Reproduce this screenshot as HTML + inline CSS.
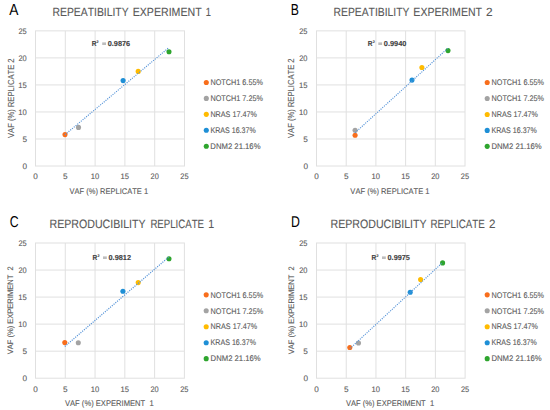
<!DOCTYPE html>
<html><head><meta charset="utf-8"><style>
html,body{margin:0;padding:0;background:#fff;}
svg{display:block;font-family:"Liberation Sans", sans-serif;font-kerning:none;text-rendering:geometricPrecision;}
</style></head><body>
<svg width="550" height="410" viewBox="0 0 550 410">
<rect width="550" height="410" fill="#fff"/>
<line x1="65.3" y1="30.85" x2="65.3" y2="166" stroke="#E0E0E0" stroke-width="1"/>
<line x1="35.5" y1="57.88" x2="184.5" y2="57.88" stroke="#E0E0E0" stroke-width="1"/>
<line x1="95.1" y1="30.85" x2="95.1" y2="166" stroke="#E0E0E0" stroke-width="1"/>
<line x1="35.5" y1="84.91" x2="184.5" y2="84.91" stroke="#E0E0E0" stroke-width="1"/>
<line x1="124.9" y1="30.85" x2="124.9" y2="166" stroke="#E0E0E0" stroke-width="1"/>
<line x1="35.5" y1="111.94" x2="184.5" y2="111.94" stroke="#E0E0E0" stroke-width="1"/>
<line x1="154.7" y1="30.85" x2="154.7" y2="166" stroke="#E0E0E0" stroke-width="1"/>
<line x1="35.5" y1="138.97" x2="184.5" y2="138.97" stroke="#E0E0E0" stroke-width="1"/>
<rect x="35.5" y="30.85" width="149" height="135.15" fill="none" stroke="#E0E0E0" stroke-width="1"/>
<text transform="matrix(1.021 0 0 1 22.581 168.75)" font-size="7.994" stroke="#595959" stroke-width="0.1" fill="#595959" xml:space="preserve">0</text>
<text transform="matrix(1.021 0 0 1 33.231 179.25)" font-size="7.994" stroke="#595959" stroke-width="0.1" fill="#595959" xml:space="preserve">0</text>
<text transform="matrix(1.029 0 0 1 22.571 141.72)" font-size="7.994" stroke="#595959" stroke-width="0.1" fill="#595959" xml:space="preserve">5</text>
<text transform="matrix(1.029 0 0 1 63.021 179.25)" font-size="7.994" stroke="#595959" stroke-width="0.1" fill="#595959" xml:space="preserve">5</text>
<text transform="matrix(0.953 0 0 1 18.219 114.69)" font-size="7.994" stroke="#595959" stroke-width="0.1" fill="#595959" xml:space="preserve">10</text>
<text transform="matrix(0.953 0 0 1 90.719 179.25)" font-size="7.994" stroke="#595959" stroke-width="0.1" fill="#595959" xml:space="preserve">10</text>
<text transform="matrix(0.956 0 0 1 18.218 87.66)" font-size="7.994" stroke="#595959" stroke-width="0.1" fill="#595959" xml:space="preserve">15</text>
<text transform="matrix(0.956 0 0 1 120.518 179.25)" font-size="7.994" stroke="#595959" stroke-width="0.1" fill="#595959" xml:space="preserve">15</text>
<text transform="matrix(0.929 0 0 1 18.426 60.63)" font-size="7.994" stroke="#595959" stroke-width="0.1" fill="#595959" xml:space="preserve">20</text>
<text transform="matrix(0.929 0 0 1 150.526 179.25)" font-size="7.994" stroke="#595959" stroke-width="0.1" fill="#595959" xml:space="preserve">20</text>
<text transform="matrix(0.932 0 0 1 18.425 33.6)" font-size="7.994" stroke="#595959" stroke-width="0.1" fill="#595959" xml:space="preserve">25</text>
<text transform="matrix(0.932 0 0 1 180.325 179.25)" font-size="7.994" stroke="#595959" stroke-width="0.1" fill="#595959" xml:space="preserve">25</text>
<text transform="matrix(0.858 0 0 1 9.373 15)" font-size="15.988" fill="#000" xml:space="preserve">A</text>
<text transform="matrix(0.871 0 0 1 52.548 15.6)" font-size="11.919" stroke="#595959" stroke-width="0.12" fill="#595959" xml:space="preserve">REPEATIBILITY</text>
<text transform="matrix(0.892 0 0 1 132.628 15.6)" font-size="11.919" stroke="#595959" stroke-width="0.12" fill="#595959" xml:space="preserve">EXPERIMENT</text>
<text transform="matrix(0.778 0 0 1 205.693 15.6)" font-size="11.919" stroke="#595959" stroke-width="0.12" fill="#595959" xml:space="preserve">1</text>
<text transform="matrix(0.91 0 0 1 69.567 193.5)" font-size="8.285" stroke="#595959" stroke-width="0.1" fill="#595959" xml:space="preserve">VAF (%) REPLICATE 1</text>
<text transform="matrix(0 -0.874 1 0 13.5 138.033)" font-size="8.721" stroke="#595959" stroke-width="0.1" fill="#595959" xml:space="preserve">VAF (%) REPLICATE 2</text>
<circle cx="65" cy="134.6" r="2.55" fill="#F86E1C"/>
<circle cx="78.5" cy="127.4" r="2.55" fill="#A3A3A3"/>
<circle cx="138.2" cy="71.4" r="2.55" fill="#FFBB00"/>
<circle cx="123.1" cy="80.6" r="2.55" fill="#1E8FD6"/>
<circle cx="169" cy="51.8" r="2.55" fill="#2EA52E"/>
<line x1="65" y1="134.7" x2="168.5" y2="47.9" stroke="#5593D8" stroke-width="1.15" stroke-dasharray="1.1 1.2"/>
<text transform="matrix(0.91 0 0 1 91.757 46.2)" font-size="7.267" font-weight="bold" stroke="#404040" stroke-width="0.1" fill="#404040" xml:space="preserve">R</text>
<text transform="matrix(0.9 0 0 1 96.578 42.9)" font-size="3.924" font-weight="bold" stroke="#404040" stroke-width="0.1" fill="#404040" xml:space="preserve">2</text>
<rect x="102.2" y="42.4" width="3.8" height="2.6" fill="#BDBDBD"/>
<text transform="matrix(1.015 0 0 1 107.708 46.2)" font-size="7.267" font-weight="bold" stroke="#404040" stroke-width="0.1" fill="#404040" xml:space="preserve">0.9876</text>
<circle cx="206.3" cy="82.45" r="2.55" fill="#F86E1C"/>
<text transform="matrix(0.895 0 0 1 210.402 85.15)" font-size="8.14" stroke="#595959" stroke-width="0.1" fill="#595959" xml:space="preserve">NOTCH1 6.55%</text>
<circle cx="206.3" cy="98.4" r="2.55" fill="#A3A3A3"/>
<text transform="matrix(0.895 0 0 1 210.402 101.1)" font-size="8.14" stroke="#595959" stroke-width="0.1" fill="#595959" xml:space="preserve">NOTCH1 7.25%</text>
<circle cx="206.3" cy="114.35" r="2.55" fill="#FFBB00"/>
<text transform="matrix(0.887 0 0 1 210.408 117.05)" font-size="8.14" stroke="#595959" stroke-width="0.1" fill="#595959" xml:space="preserve">NRAS 17.47%</text>
<circle cx="206.3" cy="130.3" r="2.55" fill="#1E8FD6"/>
<text transform="matrix(0.873 0 0 1 210.417 133)" font-size="8.14" stroke="#595959" stroke-width="0.1" fill="#595959" xml:space="preserve">KRAS 16.37%</text>
<circle cx="206.3" cy="146.25" r="2.55" fill="#2EA52E"/>
<text transform="matrix(0.949 0 0 1 210.367 148.95)" font-size="8.14" stroke="#595959" stroke-width="0.1" fill="#595959" xml:space="preserve">DNM2 21.16%</text>
<line x1="346.2" y1="30.85" x2="346.2" y2="166" stroke="#E0E0E0" stroke-width="1"/>
<line x1="316.5" y1="57.88" x2="465" y2="57.88" stroke="#E0E0E0" stroke-width="1"/>
<line x1="375.9" y1="30.85" x2="375.9" y2="166" stroke="#E0E0E0" stroke-width="1"/>
<line x1="316.5" y1="84.91" x2="465" y2="84.91" stroke="#E0E0E0" stroke-width="1"/>
<line x1="405.6" y1="30.85" x2="405.6" y2="166" stroke="#E0E0E0" stroke-width="1"/>
<line x1="316.5" y1="111.94" x2="465" y2="111.94" stroke="#E0E0E0" stroke-width="1"/>
<line x1="435.3" y1="30.85" x2="435.3" y2="166" stroke="#E0E0E0" stroke-width="1"/>
<line x1="316.5" y1="138.97" x2="465" y2="138.97" stroke="#E0E0E0" stroke-width="1"/>
<rect x="316.5" y="30.85" width="148.5" height="135.15" fill="none" stroke="#E0E0E0" stroke-width="1"/>
<text transform="matrix(1.021 0 0 1 303.381 168.75)" font-size="7.994" stroke="#595959" stroke-width="0.1" fill="#595959" xml:space="preserve">0</text>
<text transform="matrix(1.021 0 0 1 314.231 179.35)" font-size="7.994" stroke="#595959" stroke-width="0.1" fill="#595959" xml:space="preserve">0</text>
<text transform="matrix(1.029 0 0 1 303.371 141.72)" font-size="7.994" stroke="#595959" stroke-width="0.1" fill="#595959" xml:space="preserve">5</text>
<text transform="matrix(1.029 0 0 1 343.921 179.35)" font-size="7.994" stroke="#595959" stroke-width="0.1" fill="#595959" xml:space="preserve">5</text>
<text transform="matrix(0.953 0 0 1 299.019 114.69)" font-size="7.994" stroke="#595959" stroke-width="0.1" fill="#595959" xml:space="preserve">10</text>
<text transform="matrix(0.953 0 0 1 371.519 179.35)" font-size="7.994" stroke="#595959" stroke-width="0.1" fill="#595959" xml:space="preserve">10</text>
<text transform="matrix(0.956 0 0 1 299.018 87.66)" font-size="7.994" stroke="#595959" stroke-width="0.1" fill="#595959" xml:space="preserve">15</text>
<text transform="matrix(0.956 0 0 1 401.218 179.35)" font-size="7.994" stroke="#595959" stroke-width="0.1" fill="#595959" xml:space="preserve">15</text>
<text transform="matrix(0.929 0 0 1 299.226 60.63)" font-size="7.994" stroke="#595959" stroke-width="0.1" fill="#595959" xml:space="preserve">20</text>
<text transform="matrix(0.929 0 0 1 431.126 179.35)" font-size="7.994" stroke="#595959" stroke-width="0.1" fill="#595959" xml:space="preserve">20</text>
<text transform="matrix(0.932 0 0 1 299.225 33.6)" font-size="7.994" stroke="#595959" stroke-width="0.1" fill="#595959" xml:space="preserve">25</text>
<text transform="matrix(0.932 0 0 1 460.825 179.35)" font-size="7.994" stroke="#595959" stroke-width="0.1" fill="#595959" xml:space="preserve">25</text>
<text transform="matrix(0.771 0 0 1 290.698 15)" font-size="15.843" fill="#000" xml:space="preserve">B</text>
<text transform="matrix(0.868 0 0 1 333.551 15.6)" font-size="11.919" stroke="#595959" stroke-width="0.12" fill="#595959" xml:space="preserve">REPEATIBILITY</text>
<text transform="matrix(0.888 0 0 1 413.332 15.6)" font-size="11.919" stroke="#595959" stroke-width="0.12" fill="#595959" xml:space="preserve">EXPERIMENT</text>
<text transform="matrix(0.995 0 0 1 486.004 15.6)" font-size="11.919" stroke="#595959" stroke-width="0.12" fill="#595959" xml:space="preserve">2</text>
<text transform="matrix(0.917 0 0 1 350.367 193.5)" font-size="8.285" stroke="#595959" stroke-width="0.1" fill="#595959" xml:space="preserve">VAF (%) REPLICATE 1</text>
<text transform="matrix(0 -0.874 1 0 294 138.033)" font-size="8.721" stroke="#595959" stroke-width="0.1" fill="#595959" xml:space="preserve">VAF (%) REPLICATE 2</text>
<circle cx="355.1" cy="135.3" r="2.55" fill="#F86E1C"/>
<circle cx="355.1" cy="130.3" r="2.55" fill="#A3A3A3"/>
<circle cx="421.9" cy="67.5" r="2.55" fill="#FFBB00"/>
<circle cx="412" cy="80.1" r="2.55" fill="#1E8FD6"/>
<circle cx="448" cy="50.6" r="2.55" fill="#2EA52E"/>
<line x1="355.1" y1="132.7" x2="447.8" y2="48.3" stroke="#5593D8" stroke-width="1.15" stroke-dasharray="1.1 1.2"/>
<text transform="matrix(0.91 0 0 1 367.857 46.2)" font-size="7.267" font-weight="bold" stroke="#404040" stroke-width="0.1" fill="#404040" xml:space="preserve">R</text>
<text transform="matrix(0.9 0 0 1 372.678 42.9)" font-size="3.924" font-weight="bold" stroke="#404040" stroke-width="0.1" fill="#404040" xml:space="preserve">2</text>
<rect x="378.3" y="42.4" width="3.8" height="2.6" fill="#BDBDBD"/>
<text transform="matrix(1.017 0 0 1 383.808 46.2)" font-size="7.267" font-weight="bold" stroke="#404040" stroke-width="0.1" fill="#404040" xml:space="preserve">0.9940</text>
<circle cx="487.2" cy="82.55" r="2.55" fill="#F86E1C"/>
<text transform="matrix(0.895 0 0 1 491.502 85.25)" font-size="8.14" stroke="#595959" stroke-width="0.1" fill="#595959" xml:space="preserve">NOTCH1 6.55%</text>
<circle cx="487.2" cy="98.5" r="2.55" fill="#A3A3A3"/>
<text transform="matrix(0.895 0 0 1 491.502 101.2)" font-size="8.14" stroke="#595959" stroke-width="0.1" fill="#595959" xml:space="preserve">NOTCH1 7.25%</text>
<circle cx="487.2" cy="114.45" r="2.55" fill="#FFBB00"/>
<text transform="matrix(0.887 0 0 1 491.508 117.15)" font-size="8.14" stroke="#595959" stroke-width="0.1" fill="#595959" xml:space="preserve">NRAS 17.47%</text>
<circle cx="487.2" cy="130.4" r="2.55" fill="#1E8FD6"/>
<text transform="matrix(0.873 0 0 1 491.517 133.1)" font-size="8.14" stroke="#595959" stroke-width="0.1" fill="#595959" xml:space="preserve">KRAS 16.37%</text>
<circle cx="487.2" cy="146.35" r="2.55" fill="#2EA52E"/>
<text transform="matrix(0.949 0 0 1 491.467 149.05)" font-size="8.14" stroke="#595959" stroke-width="0.1" fill="#595959" xml:space="preserve">DNM2 21.16%</text>
<line x1="65.28" y1="243" x2="65.28" y2="378.2" stroke="#E0E0E0" stroke-width="1"/>
<line x1="35.5" y1="270.04" x2="184.4" y2="270.04" stroke="#E0E0E0" stroke-width="1"/>
<line x1="95.06" y1="243" x2="95.06" y2="378.2" stroke="#E0E0E0" stroke-width="1"/>
<line x1="35.5" y1="297.08" x2="184.4" y2="297.08" stroke="#E0E0E0" stroke-width="1"/>
<line x1="124.84" y1="243" x2="124.84" y2="378.2" stroke="#E0E0E0" stroke-width="1"/>
<line x1="35.5" y1="324.12" x2="184.4" y2="324.12" stroke="#E0E0E0" stroke-width="1"/>
<line x1="154.62" y1="243" x2="154.62" y2="378.2" stroke="#E0E0E0" stroke-width="1"/>
<line x1="35.5" y1="351.16" x2="184.4" y2="351.16" stroke="#E0E0E0" stroke-width="1"/>
<rect x="35.5" y="243" width="148.9" height="135.2" fill="none" stroke="#E0E0E0" stroke-width="1"/>
<text transform="matrix(1.021 0 0 1 22.581 380.95)" font-size="7.994" stroke="#595959" stroke-width="0.1" fill="#595959" xml:space="preserve">0</text>
<text transform="matrix(1.021 0 0 1 33.231 391.55)" font-size="7.994" stroke="#595959" stroke-width="0.1" fill="#595959" xml:space="preserve">0</text>
<text transform="matrix(1.029 0 0 1 22.571 353.91)" font-size="7.994" stroke="#595959" stroke-width="0.1" fill="#595959" xml:space="preserve">5</text>
<text transform="matrix(1.029 0 0 1 63.001 391.55)" font-size="7.994" stroke="#595959" stroke-width="0.1" fill="#595959" xml:space="preserve">5</text>
<text transform="matrix(0.953 0 0 1 18.219 326.87)" font-size="7.994" stroke="#595959" stroke-width="0.1" fill="#595959" xml:space="preserve">10</text>
<text transform="matrix(0.953 0 0 1 90.679 391.55)" font-size="7.994" stroke="#595959" stroke-width="0.1" fill="#595959" xml:space="preserve">10</text>
<text transform="matrix(0.956 0 0 1 18.218 299.83)" font-size="7.994" stroke="#595959" stroke-width="0.1" fill="#595959" xml:space="preserve">15</text>
<text transform="matrix(0.956 0 0 1 120.458 391.55)" font-size="7.994" stroke="#595959" stroke-width="0.1" fill="#595959" xml:space="preserve">15</text>
<text transform="matrix(0.929 0 0 1 18.426 272.79)" font-size="7.994" stroke="#595959" stroke-width="0.1" fill="#595959" xml:space="preserve">20</text>
<text transform="matrix(0.929 0 0 1 150.446 391.55)" font-size="7.994" stroke="#595959" stroke-width="0.1" fill="#595959" xml:space="preserve">20</text>
<text transform="matrix(0.932 0 0 1 18.425 245.75)" font-size="7.994" stroke="#595959" stroke-width="0.1" fill="#595959" xml:space="preserve">25</text>
<text transform="matrix(0.932 0 0 1 180.225 391.55)" font-size="7.994" stroke="#595959" stroke-width="0.1" fill="#595959" xml:space="preserve">25</text>
<text transform="matrix(0.78 0 0 1 9.629 226.8)" font-size="15.698" fill="#000" xml:space="preserve">C</text>
<text transform="matrix(0.88 0 0 1 49.529 228)" font-size="12.064" stroke="#595959" stroke-width="0.12" fill="#595959" xml:space="preserve">REPRODUCIBILITY</text>
<text transform="matrix(0.8 0 0 1 150.409 228)" font-size="12.064" stroke="#595959" stroke-width="0.12" fill="#595959" xml:space="preserve">REPLICATE</text>
<text transform="matrix(0.884 0 0 1 208.187 228)" font-size="12.064" stroke="#595959" stroke-width="0.12" fill="#595959" xml:space="preserve">1</text>
<text transform="matrix(0.919 0 0 1 64.967 405.5)" font-size="8.285" stroke="#595959" stroke-width="0.1" fill="#595959" xml:space="preserve">VAF (%) EXPERIMENT  1</text>
<text transform="matrix(0 -0.944 1 0 13.1 354.333)" font-size="7.994" stroke="#595959" stroke-width="0.1" fill="#595959" xml:space="preserve">VAF (%) EXPERIMENT  2</text>
<circle cx="64.8" cy="342.6" r="2.55" fill="#F86E1C"/>
<circle cx="78.3" cy="342.7" r="2.55" fill="#A3A3A3"/>
<circle cx="138.2" cy="282.6" r="2.55" fill="#FFBB00"/>
<circle cx="122.9" cy="291.2" r="2.55" fill="#1E8FD6"/>
<circle cx="169" cy="258.7" r="2.55" fill="#2EA52E"/>
<line x1="64.8" y1="346.5" x2="168.6" y2="257.2" stroke="#5593D8" stroke-width="1.15" stroke-dasharray="1.1 1.2"/>
<text transform="matrix(0.91 0 0 1 92.557 260.2)" font-size="7.267" font-weight="bold" stroke="#404040" stroke-width="0.1" fill="#404040" xml:space="preserve">R</text>
<text transform="matrix(0.9 0 0 1 97.378 256.9)" font-size="3.924" font-weight="bold" stroke="#404040" stroke-width="0.1" fill="#404040" xml:space="preserve">2</text>
<rect x="103" y="256.4" width="3.8" height="2.6" fill="#BDBDBD"/>
<text transform="matrix(1.016 0 0 1 108.508 260.2)" font-size="7.267" font-weight="bold" stroke="#404040" stroke-width="0.1" fill="#404040" xml:space="preserve">0.9812</text>
<circle cx="206.2" cy="294.85" r="2.55" fill="#F86E1C"/>
<text transform="matrix(0.895 0 0 1 210.602 297.55)" font-size="8.14" stroke="#595959" stroke-width="0.1" fill="#595959" xml:space="preserve">NOTCH1 6.55%</text>
<circle cx="206.2" cy="310.8" r="2.55" fill="#A3A3A3"/>
<text transform="matrix(0.895 0 0 1 210.602 313.5)" font-size="8.14" stroke="#595959" stroke-width="0.1" fill="#595959" xml:space="preserve">NOTCH1 7.25%</text>
<circle cx="206.2" cy="326.75" r="2.55" fill="#FFBB00"/>
<text transform="matrix(0.887 0 0 1 210.608 329.45)" font-size="8.14" stroke="#595959" stroke-width="0.1" fill="#595959" xml:space="preserve">NRAS 17.47%</text>
<circle cx="206.2" cy="342.7" r="2.55" fill="#1E8FD6"/>
<text transform="matrix(0.873 0 0 1 210.617 345.4)" font-size="8.14" stroke="#595959" stroke-width="0.1" fill="#595959" xml:space="preserve">KRAS 16.37%</text>
<circle cx="206.2" cy="358.65" r="2.55" fill="#2EA52E"/>
<text transform="matrix(0.949 0 0 1 210.567 361.35)" font-size="8.14" stroke="#595959" stroke-width="0.1" fill="#595959" xml:space="preserve">DNM2 21.16%</text>
<line x1="346.22" y1="243" x2="346.22" y2="378.2" stroke="#E0E0E0" stroke-width="1"/>
<line x1="316.5" y1="270.04" x2="465.1" y2="270.04" stroke="#E0E0E0" stroke-width="1"/>
<line x1="375.94" y1="243" x2="375.94" y2="378.2" stroke="#E0E0E0" stroke-width="1"/>
<line x1="316.5" y1="297.08" x2="465.1" y2="297.08" stroke="#E0E0E0" stroke-width="1"/>
<line x1="405.66" y1="243" x2="405.66" y2="378.2" stroke="#E0E0E0" stroke-width="1"/>
<line x1="316.5" y1="324.12" x2="465.1" y2="324.12" stroke="#E0E0E0" stroke-width="1"/>
<line x1="435.38" y1="243" x2="435.38" y2="378.2" stroke="#E0E0E0" stroke-width="1"/>
<line x1="316.5" y1="351.16" x2="465.1" y2="351.16" stroke="#E0E0E0" stroke-width="1"/>
<rect x="316.5" y="243" width="148.6" height="135.2" fill="none" stroke="#E0E0E0" stroke-width="1"/>
<text transform="matrix(1.021 0 0 1 303.381 380.95)" font-size="7.994" stroke="#595959" stroke-width="0.1" fill="#595959" xml:space="preserve">0</text>
<text transform="matrix(1.021 0 0 1 314.231 391.55)" font-size="7.994" stroke="#595959" stroke-width="0.1" fill="#595959" xml:space="preserve">0</text>
<text transform="matrix(1.029 0 0 1 303.371 353.91)" font-size="7.994" stroke="#595959" stroke-width="0.1" fill="#595959" xml:space="preserve">5</text>
<text transform="matrix(1.029 0 0 1 343.941 391.55)" font-size="7.994" stroke="#595959" stroke-width="0.1" fill="#595959" xml:space="preserve">5</text>
<text transform="matrix(0.953 0 0 1 299.019 326.87)" font-size="7.994" stroke="#595959" stroke-width="0.1" fill="#595959" xml:space="preserve">10</text>
<text transform="matrix(0.953 0 0 1 371.559 391.55)" font-size="7.994" stroke="#595959" stroke-width="0.1" fill="#595959" xml:space="preserve">10</text>
<text transform="matrix(0.956 0 0 1 299.018 299.83)" font-size="7.994" stroke="#595959" stroke-width="0.1" fill="#595959" xml:space="preserve">15</text>
<text transform="matrix(0.956 0 0 1 401.278 391.55)" font-size="7.994" stroke="#595959" stroke-width="0.1" fill="#595959" xml:space="preserve">15</text>
<text transform="matrix(0.929 0 0 1 299.226 272.79)" font-size="7.994" stroke="#595959" stroke-width="0.1" fill="#595959" xml:space="preserve">20</text>
<text transform="matrix(0.929 0 0 1 431.206 391.55)" font-size="7.994" stroke="#595959" stroke-width="0.1" fill="#595959" xml:space="preserve">20</text>
<text transform="matrix(0.932 0 0 1 299.225 245.75)" font-size="7.994" stroke="#595959" stroke-width="0.1" fill="#595959" xml:space="preserve">25</text>
<text transform="matrix(0.932 0 0 1 460.925 391.55)" font-size="7.994" stroke="#595959" stroke-width="0.1" fill="#595959" xml:space="preserve">25</text>
<text transform="matrix(0.785 0 0 1 290.989 227.2)" font-size="15.698" fill="#000" xml:space="preserve">D</text>
<text transform="matrix(0.88 0 0 1 330.529 228)" font-size="12.064" stroke="#595959" stroke-width="0.12" fill="#595959" xml:space="preserve">REPRODUCIBILITY</text>
<text transform="matrix(0.809 0 0 1 430.5 228)" font-size="12.064" stroke="#595959" stroke-width="0.12" fill="#595959" xml:space="preserve">REPLICATE</text>
<text transform="matrix(0.964 0 0 1 488.915 228)" font-size="12.064" stroke="#595959" stroke-width="0.12" fill="#595959" xml:space="preserve">2</text>
<text transform="matrix(0.914 0 0 1 345.967 405.5)" font-size="8.285" stroke="#595959" stroke-width="0.1" fill="#595959" xml:space="preserve">VAF (%) EXPERIMENT  1</text>
<text transform="matrix(0 -0.945 1 0 293.8 354.333)" font-size="7.994" stroke="#595959" stroke-width="0.1" fill="#595959" xml:space="preserve">VAF (%) EXPERIMENT  2</text>
<circle cx="349.8" cy="347.5" r="2.55" fill="#F86E1C"/>
<circle cx="358.5" cy="343" r="2.55" fill="#A3A3A3"/>
<circle cx="420.6" cy="279.5" r="2.55" fill="#FFBB00"/>
<circle cx="410.2" cy="292.3" r="2.55" fill="#1E8FD6"/>
<circle cx="442.6" cy="262.9" r="2.55" fill="#2EA52E"/>
<line x1="349.8" y1="348.7" x2="442.4" y2="262.7" stroke="#5593D8" stroke-width="1.15" stroke-dasharray="1.1 1.2"/>
<text transform="matrix(0.91 0 0 1 371.557 260.2)" font-size="7.267" font-weight="bold" stroke="#404040" stroke-width="0.1" fill="#404040" xml:space="preserve">R</text>
<text transform="matrix(0.9 0 0 1 376.378 256.9)" font-size="3.924" font-weight="bold" stroke="#404040" stroke-width="0.1" fill="#404040" xml:space="preserve">2</text>
<rect x="382" y="256.4" width="3.8" height="2.6" fill="#BDBDBD"/>
<text transform="matrix(1.012 0 0 1 387.509 260.2)" font-size="7.267" font-weight="bold" stroke="#404040" stroke-width="0.1" fill="#404040" xml:space="preserve">0.9975</text>
<circle cx="487.2" cy="294.85" r="2.55" fill="#F86E1C"/>
<text transform="matrix(0.895 0 0 1 491.502 297.55)" font-size="8.14" stroke="#595959" stroke-width="0.1" fill="#595959" xml:space="preserve">NOTCH1 6.55%</text>
<circle cx="487.2" cy="310.8" r="2.55" fill="#A3A3A3"/>
<text transform="matrix(0.895 0 0 1 491.502 313.5)" font-size="8.14" stroke="#595959" stroke-width="0.1" fill="#595959" xml:space="preserve">NOTCH1 7.25%</text>
<circle cx="487.2" cy="326.75" r="2.55" fill="#FFBB00"/>
<text transform="matrix(0.887 0 0 1 491.508 329.45)" font-size="8.14" stroke="#595959" stroke-width="0.1" fill="#595959" xml:space="preserve">NRAS 17.47%</text>
<circle cx="487.2" cy="342.7" r="2.55" fill="#1E8FD6"/>
<text transform="matrix(0.873 0 0 1 491.517 345.4)" font-size="8.14" stroke="#595959" stroke-width="0.1" fill="#595959" xml:space="preserve">KRAS 16.37%</text>
<circle cx="487.2" cy="358.65" r="2.55" fill="#2EA52E"/>
<text transform="matrix(0.949 0 0 1 491.467 361.35)" font-size="8.14" stroke="#595959" stroke-width="0.1" fill="#595959" xml:space="preserve">DNM2 21.16%</text>
</svg>
</body></html>
